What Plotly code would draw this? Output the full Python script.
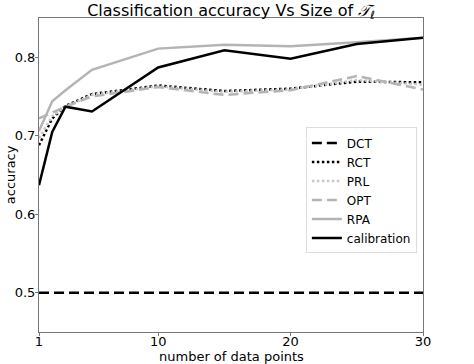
import plotly.graph_objects as go

x_points = [1, 2, 3, 5, 10, 15, 20, 25, 30]
dct = [0.5, 0.5, 0.5, 0.5, 0.5, 0.5, 0.5, 0.5, 0.5]
rct = [0.688, 0.722, 0.738, 0.753, 0.764, 0.757, 0.760, 0.769, 0.768]
prl = [0.697, 0.725, 0.737, 0.752, 0.763, 0.756, 0.759, 0.771, 0.765]
opt = [0.722, 0.730, 0.737, 0.750, 0.762, 0.752, 0.758, 0.776, 0.759]
rpa = [0.706, 0.744, 0.758, 0.784, 0.811, 0.816, 0.814, 0.819, 0.825]
calibration = [0.637, 0.705, 0.737, 0.731, 0.787, 0.809, 0.798, 0.817, 0.825]

series = [
    ("DCT", dct, "black", "10px,5px", 2.5),
    ("RCT", rct, "black", "2.5px,2.5px", 2.5),
    ("PRL", prl, "#c8c8c8", "2.5px,2.5px", 2.5),
    ("OPT", opt, "#b4b4b4", "10px,5px", 2.5),
    ("RPA", rpa, "#b4b4b4", "solid", 2.5),
    ("calibration", calibration, "black", "solid", 2.5),
]

fig = go.Figure()
for name, vals, color, dash, w in series:
    fig.add_trace(go.Scatter(x=x_points, y=vals, mode="lines", name=name,
                             line=dict(color=color, dash=dash, width=w)))

fig.update_layout(
    width=474, height=364,
    margin=dict(l=39, r=51, t=18, b=32, autoexpand=False),
    paper_bgcolor="white", plot_bgcolor="white",
    font=dict(family="DejaVu Sans", color="black", size=13),
    title=dict(text="Classification accuracy Vs Size of <i>𝒯</i><sub>ℓ</sub>",
               x=0.5, xref="paper", xanchor="center", y=0.972, yanchor="middle",
               font=dict(size=16)),
    showlegend=True,
    legend=dict(x=0.984, xanchor="right", y=0.451, yanchor="middle",
                bgcolor="white", bordercolor="#dddddd", borderwidth=1,
                font=dict(size=12), tracegroupgap=0, itemwidth=30),
    xaxis=dict(range=[1, 30], tickvals=[1, 10, 20, 30], showgrid=False, zeroline=False,
               showline=True, linecolor="#777777", linewidth=1, mirror=True,
               ticks="outside", ticklen=3, tickcolor="#777777", automargin=False,
               ticklabelstandoff=-6),
    yaxis=dict(range=[0.45, 0.85], tickvals=[0.5, 0.6, 0.7, 0.8], showgrid=False, zeroline=False,
               showline=True, linecolor="#777777", linewidth=1, mirror=True,
               ticks="outside", ticklen=3, tickcolor="#777777", automargin=False,
               ticklabelstandoff=-3),
    annotations=[
        dict(text="number of data points", xref="paper", yref="paper", x=0.5, y=-0.079,
             xanchor="center", yanchor="middle", showarrow=False, font=dict(size=13)),
        dict(text="accuracy", xref="paper", yref="paper", x=-0.075, y=0.5, textangle=-90,
             xanchor="center", yanchor="middle", showarrow=False, font=dict(size=13)),
    ],
)

fig.write_html("out.html", config={"displayModeBar": False},
               post_script="document.body.style.margin='0';document.body.style.overflow='hidden';")
